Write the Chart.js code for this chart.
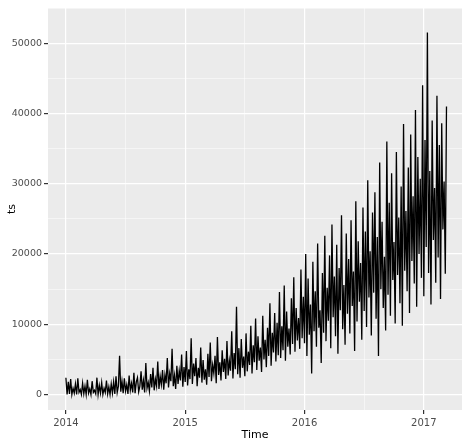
<!DOCTYPE html>
<html><head><meta charset="utf-8">
<script src="https://cdn.jsdelivr.net/npm/chart.js@4"></script>
<style>html,body{margin:0;padding:0;background:#fff}#w{width:474px;height:446px}</style>
</head><body><div id="w"><canvas id="c" width="474" height="446"></canvas></div>
<script>
const startYear = 2014;
const stepYear = 0.01;
const tsValues = [
2400,0,1800,100,2200,0,900,200,1500,0,2300,300,700,0,1600,100,1200,0,2100,200,
800,0,1900,300,600,100,2400,0,1300,200,1700,0,900,300,2000,100,1100,0,1500,200,
1800,100,2600,300,1200,5500,400,1900,200,2300,500,1400,100,2700,600,1600,300,3100,200,1800,
2400,400,1200,3300,700,2000,300,4500,900,1700,500,2900,1000,3800,600,2200,1200,4700,800,2600,
1400,3500,700,2800,1600,5200,1000,3000,1900,6500,1200,2700,800,4100,1500,3400,2000,5700,1100,3900,
1800,6200,1300,3600,2200,8000,1500,4400,2600,5200,1200,3800,2400,6700,1700,4900,2100,3600,1400,5800,
2500,7400,1900,4200,3000,5500,1600,8200,2800,4600,2000,6300,3200,5100,2200,7600,2700,4800,3400,9000,
2300,5900,3600,12500,2900,6600,2400,7900,3800,5400,2600,8700,3300,6100,4200,9800,3000,7000,4600,10800,
3500,8300,4800,6700,3200,11200,5000,7800,3900,9500,5500,13000,4100,8800,6000,11600,4700,10200,5600,14600,
5200,9700,6300,15500,4800,11800,6800,9400,5700,13700,7200,16700,6100,12300,7700,10900,6500,17800,8000,13900,
7300,20000,5500,16500,8500,12800,3000,18900,9000,14700,6800,21500,9500,12000,4500,17300,8800,22600,7600,15200,
10500,19800,6600,24200,11000,16800,8300,21300,5800,18000,12000,25500,9300,15600,7100,22900,11500,19300,8700,24800,
12600,17500,6200,27500,10400,21800,13200,18700,7800,26600,11900,23200,9600,30500,13800,20400,8400,25900,14500,28800,
10800,22400,5500,33000,15000,24600,12300,19600,9100,36000,14200,27300,11200,31500,16300,21700,10100,34500,17000,25200,
13000,29600,9800,38500,17600,26100,14700,32300,11600,37000,19000,28200,15800,40500,12500,33800,20000,30700,16600,44000,
14000,36200,21000,51500,17300,31800,12800,39000,22000,29400,15900,42500,19500,35500,13600,38600,23500,30300,17200,41000
];
const xTickLabels = [2014, 2015, 2016, 2017];
const yTickLabels = [0, 10000, 20000, 30000, 40000, 50000];
const points = tsValues.map((v, i) => ({x: startYear + i * stepYear, y: v}));

const bg = {id:'bg', beforeDraw(ch){const a=ch.chartArea,c=ch.ctx;c.save();c.fillStyle='#EBEBEB';c.fillRect(a.left,a.top,a.right-a.left,a.bottom-a.top);c.restore();}};
const gridW = (ctx, majors) => majors.includes(ctx.tick && ctx.tick.value) ? 1.2 : 0.5;
new Chart(document.getElementById('c'), {
  type:'line',
  data:{datasets:[{data:points, borderColor:'#000', borderWidth:1.3, pointRadius:0, tension:0}]},
  options:{
    responsive:false, animation:false, events:[],
    layout:{padding:{top:8,right:12,left:2,bottom:0}},
    plugins:{legend:{display:false}, tooltip:{enabled:false}},
    scales:{
      x:{type:'linear', min:2013.85, max:2017.32,
        afterFit(ax){ax.height=36;},
        afterBuildTicks(ax){ax.ticks=[2014,2014.5,2015,2015.5,2016,2016.5,2017].map(v=>({value:v}));},
        ticks:{color:'#4D4D4D', font:{size:10, family:'DejaVu Sans'}, autoSkip:false, maxRotation:0,
          callback:v=>xTickLabels.includes(v)?String(v):''},
        grid:{color:'#fff', lineWidth:c=>gridW(c,xTickLabels), tickColor:c=>xTickLabels.includes(c.tick&&c.tick.value)?'#333':'rgba(0,0,0,0)', tickLength:4},
        border:{display:false},
        title:{display:true, text:'Time', color:'#000', font:{size:11, family:'DejaVu Sans'}, padding:{top:0}}
      },
      y:{min:-2200, max:55000,
        afterFit(ax){ax.width=46;},
        afterBuildTicks(ax){const t=[];for(let v=0;v<=55000;v+=5000)t.push({value:v});ax.ticks=t;},
        ticks:{color:'#4D4D4D', font:{size:9.5, family:'DejaVu Sans'}, autoSkip:false, padding:2,
          callback:v=>yTickLabels.includes(v)?String(v):''},
        grid:{color:'#fff', lineWidth:c=>gridW(c,yTickLabels), tickColor:c=>yTickLabels.includes(c.tick&&c.tick.value)?'#333':'rgba(0,0,0,0)', tickLength:4},
        border:{display:false},
        title:{display:true, text:'ts', color:'#000', font:{size:11, family:'DejaVu Sans'}, padding:{bottom:0}}
      }
    }
  },
  plugins:[bg]
});
</script></body></html>
